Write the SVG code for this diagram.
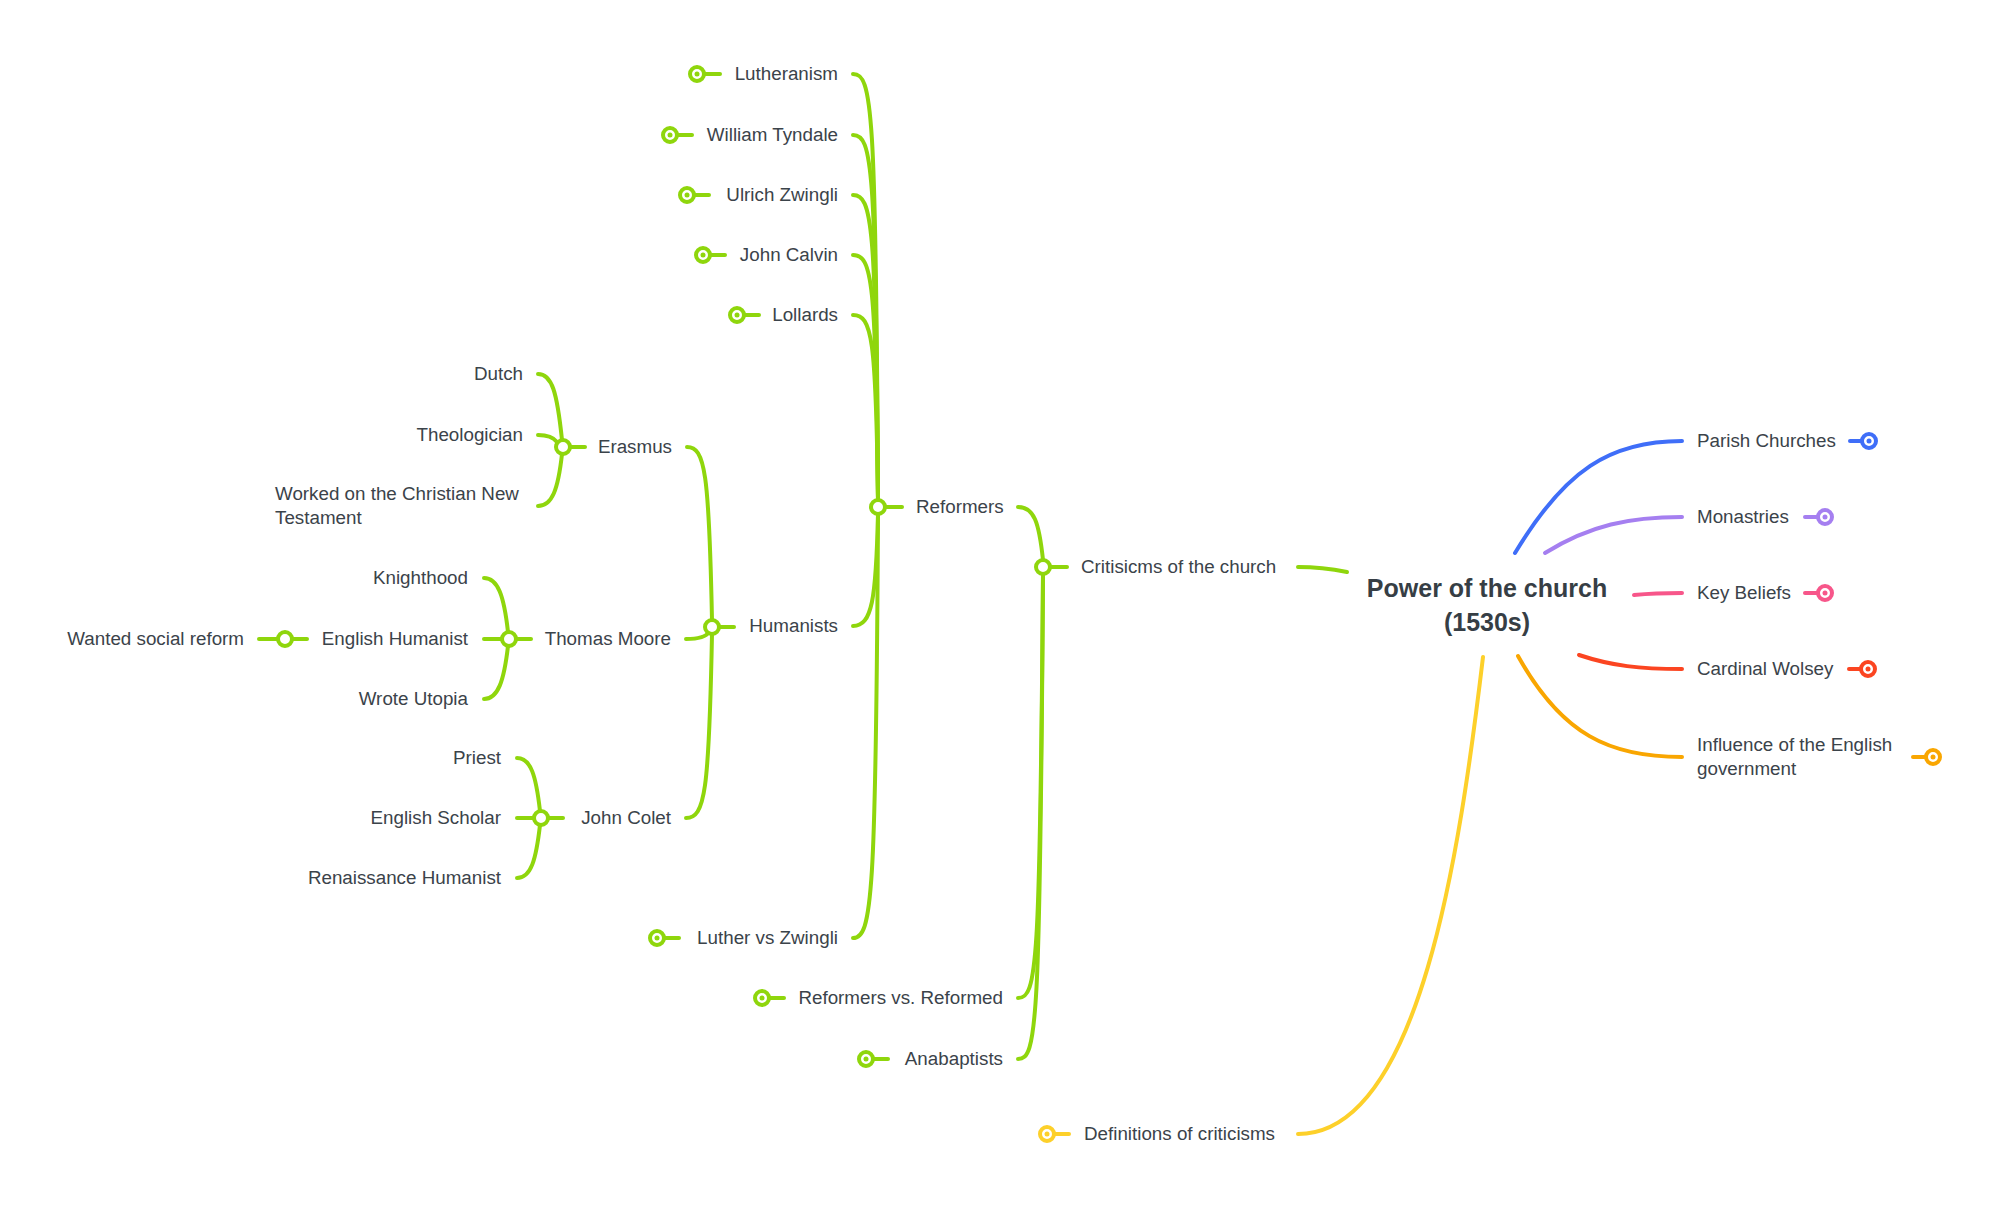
<svg xmlns="http://www.w3.org/2000/svg" width="1991" height="1210" viewBox="0 0 1991 1210">
<style>
text{font-family:"Liberation Sans",Arial,sans-serif;font-size:18.8px;fill:#3b434a}
.e{text-anchor:end}
.root{font-size:25px;font-weight:bold;text-anchor:middle;fill:#363e45}
.c{fill:none;stroke-width:4;stroke-linecap:round}
.g{stroke:#8fd60c}
.hub{fill:#fff;stroke:#8fd60c;stroke-width:4}
.ic{fill:#fff;stroke-width:4}
</style>
<rect width="1991" height="1210" fill="#fff"/>
<g id="connectors" class="c">
  <path d="M1515,553 C1565,470 1610,441 1682,441" stroke="#3f6ef8"/>
  <path d="M1545,553 C1590,525 1630,517 1682,517" stroke="#a57ff0"/>
  <path d="M1634,595 Q1655,593 1682,593" stroke="#f7568a"/>
  <path d="M1579,655 C1612,666 1640,669 1682,669" stroke="#fb4521"/>
  <path d="M1518,656 C1562,735 1610,757 1682,757" stroke="#f9a601"/>
  <path d="M1483,657 C1460,850 1420,1134 1298,1134" stroke="#fdd02a"/>
  <path d="M1298,567 Q1322,567 1347,572" class="g"/>
  <path d="M1051,567 L1067,567" class="g"/>
  <path d="M1018,507 C1034,507 1039,522 1043,560" class="g"/>
  <path d="M1018,998 C1037,998 1040,970 1043,574" class="g"/>
  <path d="M1018,1059 C1037,1059 1040,1030 1043,574" class="g"/>
  <path d="M886,507 L902,507" class="g"/>
  <path d="M853,74 C872,74 876,104 878,500" class="g"/>
  <path d="M853,135 C872,135 876,163 878,500" class="g"/>
  <path d="M853,195 C872,195 876,222 878,500" class="g"/>
  <path d="M853,255 C872,255 876,280 878,500" class="g"/>
  <path d="M853,315 C872,315 876,338 878,500" class="g"/>
  <path d="M853,626 C872,626 876,600 878,514" class="g"/>
  <path d="M853,938 C872,938 876,900 878,514" class="g"/>
  <path d="M720,627 L734,627" class="g"/>
  <path d="M687,447 C705,447 709,472 712,620" class="g"/>
  <path d="M686,639 C699,639 706,637 709,632" class="g"/>
  <path d="M686,818 C705,818 709,792 712,634" class="g"/>
  <path d="M571,447 L585,447" class="g"/>
  <path d="M538,374 C552,374 557,392 562,440" class="g"/>
  <path d="M538,435 C549,435 554,438 557,442" class="g"/>
  <path d="M538,506 C552,506 558,490 562,454" class="g"/>
  <path d="M484,639 L531,639" class="g"/>
  <path d="M484,578 C498,578 504,596 508,632" class="g"/>
  <path d="M484,699 C498,699 504,681 508,646" class="g"/>
  <path d="M259,639 L307,639" class="g"/>
  <path d="M517,818 L563,818" class="g"/>
  <path d="M517,758 C531,758 536,776 540,811" class="g"/>
  <path d="M517,878 C531,878 536,860 540,825" class="g"/>
</g>

<g id="root"><text class="root" x="1487" y="597">Power of the church</text><text class="root" x="1487" y="631">(1530s)</text></g>

<g id="parish"><text x="1697" y="447">Parish Churches</text><path d="M1850,441 L1862,441" class="c" stroke="#3f6ef8"/><circle cx="1869" cy="441" r="7" class="ic" stroke="#3f6ef8"/><circle cx="1869" cy="441" r="2.5" fill="#3f6ef8"/></g>
<g id="monastries"><text x="1697" y="523">Monastries</text><path d="M1805,517 L1818,517" class="c" stroke="#a57ff0"/><circle cx="1825" cy="517" r="7" class="ic" stroke="#a57ff0"/><circle cx="1825" cy="517" r="2.5" fill="#a57ff0"/></g>
<g id="keybeliefs"><text x="1697" y="599">Key Beliefs</text><path d="M1805,593 L1818,593" class="c" stroke="#f7568a"/><circle cx="1825" cy="593" r="7" class="ic" stroke="#f7568a"/><circle cx="1825" cy="593" r="2.5" fill="#f7568a"/></g>
<g id="wolsey"><text x="1697" y="675">Cardinal Wolsey</text><path d="M1849,669 L1861,669" class="c" stroke="#fb4521"/><circle cx="1868" cy="669" r="7" class="ic" stroke="#fb4521"/><circle cx="1868" cy="669" r="2.5" fill="#fb4521"/></g>
<g id="influence"><text x="1697" y="751">Influence of the English</text><text x="1697" y="775">government</text><path d="M1913,757 L1926,757" class="c" stroke="#f9a601"/><circle cx="1933" cy="757" r="7" class="ic" stroke="#f9a601"/><circle cx="1933" cy="757" r="2.5" fill="#f9a601"/></g>
<g id="definitions"><text x="1084" y="1140">Definitions of criticisms</text><path d="M1054,1134 L1069,1134" class="c" stroke="#fdd02a"/><circle cx="1047" cy="1134" r="7" class="ic" stroke="#fdd02a"/><circle cx="1047" cy="1134" r="2.5" fill="#fdd02a"/></g>

<g id="critisicms"><circle cx="1043" cy="567" r="7" class="hub"/><text x="1081" y="573">Critisicms of the church</text></g>
<g id="reformers"><circle cx="878" cy="507" r="7" class="hub"/><text x="916" y="513">Reformers</text></g>

<g id="lutheranism"><text class="e" x="838" y="80">Lutheranism</text><path d="M704,74 L720,74" class="c g"/><circle cx="697" cy="74" r="7" class="ic" stroke="#8fd60c"/><circle cx="697" cy="74" r="2.5" fill="#8fd60c"/></g>
<g id="tyndale"><text class="e" x="838" y="141">William Tyndale</text><path d="M677,135 L692,135" class="c g"/><circle cx="670" cy="135" r="7" class="ic" stroke="#8fd60c"/><circle cx="670" cy="135" r="2.5" fill="#8fd60c"/></g>
<g id="zwingli"><text class="e" x="838" y="201">Ulrich Zwingli</text><path d="M694,195 L709,195" class="c g"/><circle cx="687" cy="195" r="7" class="ic" stroke="#8fd60c"/><circle cx="687" cy="195" r="2.5" fill="#8fd60c"/></g>
<g id="calvin"><text class="e" x="838" y="261">John Calvin</text><path d="M710,255 L725,255" class="c g"/><circle cx="703" cy="255" r="7" class="ic" stroke="#8fd60c"/><circle cx="703" cy="255" r="2.5" fill="#8fd60c"/></g>
<g id="lollards"><text class="e" x="838" y="321">Lollards</text><path d="M744,315 L759,315" class="c g"/><circle cx="737" cy="315" r="7" class="ic" stroke="#8fd60c"/><circle cx="737" cy="315" r="2.5" fill="#8fd60c"/></g>
<g id="luthervszwingli"><text class="e" x="838" y="944">Luther vs Zwingli</text><path d="M664,938 L679,938" class="c g"/><circle cx="657" cy="938" r="7" class="ic" stroke="#8fd60c"/><circle cx="657" cy="938" r="2.5" fill="#8fd60c"/></g>
<g id="reformersvsreformed"><text class="e" x="1003" y="1004">Reformers vs. Reformed</text><path d="M769,998 L784,998" class="c g"/><circle cx="762" cy="998" r="7" class="ic" stroke="#8fd60c"/><circle cx="762" cy="998" r="2.5" fill="#8fd60c"/></g>
<g id="anabaptists"><text class="e" x="1003" y="1065">Anabaptists</text><path d="M873,1059 L888,1059" class="c g"/><circle cx="866" cy="1059" r="7" class="ic" stroke="#8fd60c"/><circle cx="866" cy="1059" r="2.5" fill="#8fd60c"/></g>

<g id="humanists"><circle cx="712" cy="627" r="7" class="hub"/><text class="e" x="838" y="632">Humanists</text></g>
<g id="erasmus"><circle cx="563" cy="447" r="7" class="hub"/><text class="e" x="672" y="453">Erasmus</text></g>
<g id="dutch"><text class="e" x="523" y="380">Dutch</text></g>
<g id="theologician"><text class="e" x="523" y="441">Theologician</text></g>
<g id="worked"><text x="275" y="500">Worked on the Christian New</text><text x="275" y="524">Testament</text></g>
<g id="thomasmoore"><circle cx="509" cy="639" r="7" class="hub"/><text class="e" x="671" y="645">Thomas Moore</text></g>
<g id="knighthood"><text class="e" x="468" y="584">Knighthood</text></g>
<g id="englishhumanist"><circle cx="285" cy="639" r="7" class="hub"/><text class="e" x="468" y="645">English Humanist</text></g>
<g id="wantedsocialreform"><text class="e" x="244" y="645">Wanted social reform</text></g>
<g id="wroteutopia"><text class="e" x="468" y="705">Wrote Utopia</text></g>
<g id="johncolet"><circle cx="541" cy="818" r="7" class="hub"/><text class="e" x="671" y="824">John Colet</text></g>
<g id="priest"><text class="e" x="501" y="764">Priest</text></g>
<g id="englishscholar"><text class="e" x="501" y="824">English Scholar</text></g>
<g id="renaissancehumanist"><text class="e" x="501" y="884">Renaissance Humanist</text></g>
</svg>
